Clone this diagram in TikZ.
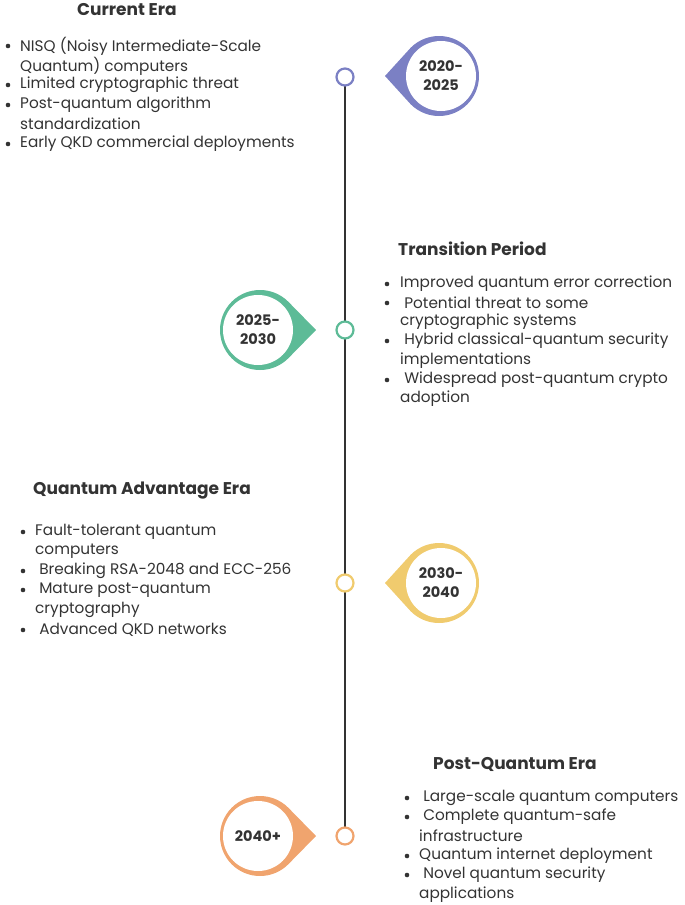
\documentclass[tikz,border=0pt]{standalone}
\usepackage{fontspec}
\usetikzlibrary{calc}
\setmainfont{Poppins}
\definecolor{cA}{HTML}{7B80C4}
\definecolor{cB}{HTML}{5DBB97}
\definecolor{cC}{HTML}{F0CB6E}
\definecolor{cD}{HTML}{F0A46E}
\definecolor{tx}{HTML}{333333}
\begin{document}
\begin{tikzpicture}[x=1pt,y=-1pt,
  txt/.style={anchor=west,inner sep=0,font=\fontsize{15.3}{16}\selectfont,text=tx},
  ttl/.style={anchor=west,inner sep=0,font=\fontsize{17}{18}\selectfont\bfseries,text=tx},
  yr/.style={align=center,font=\fontsize{14.5}{19}\selectfont\bfseries,text=tx},
  dotc/.style={circle,draw=#1,line width=2.2pt,fill=white,minimum size=17pt,inner sep=0}]
\useasboundingbox (0,0) rectangle (685,905);
\coordinate (top) at (345,77);
\coordinate (bot) at (345,836);
\draw[line width=1.3pt,tx] (top) -- (bot);
\node[dotc=cA] (d1) at (345,77) {};
\node[dotc=cB] (d2) at (345,330) {};
\node[dotc=cC] (d3) at (345,583) {};
\node[dotc=cD] (d4) at (345,836) {};
% badges
\foreach \cx/\cy/\tipx/\cc/\lab [count=\i] in {439/76/385/cA/{2020-\\2025}, 260/330/316/cB/{2025-\\2030}, 439/583/385/cC/{2030-\\2040}, 260/836/316/cD/{2040+}}{
  \pgfmathsetmacro{\dir}{\tipx<\cx ? 180 : 0}
  \pgfmathsetmacro{\sg}{\tipx<\cx ? 1 : -1}
  \fill[\cc] (\tipx,\cy) -- ($(\cx,\cy)+(\dir+45:40)$) arc[start angle=\dir+45,end angle=\dir+315,radius=40] -- cycle;
  \fill[white] (\cx+\sg*2,\cy) circle (35);
  \node[yr] (b\i) at (\cx+\sg*2,\cy) {\lab};
}
% Current Era
\node[ttl] (t1) at (77,10) {Current Era};
\foreach \y/\b/\s in {46/1/{NISQ (Noisy Intermediate-Scale},66/0/{Quantum) computers},85/1/{Limited cryptographic threat},105/1/{Post-quantum algorithm},124/0/{standardization},144/1/{Early QKD commercial deployments}}{
  \node[txt] at (20,\y) {\s};
  \ifnum\b=1 \fill[tx] (8,\y) circle (2.3);\fi
}
\node[ttl] (t2) at (398,249) {Transition Period};
\foreach \y/\b/\s in {284/1/{Improved quantum error correction},303/1/{\ Potential threat to some},322/0/{cryptographic systems},341/1/{\ Hybrid classical-quantum security},361/0/{implementations},380/1/{\ Widespread post-quantum crypto},399/0/{adoption}}{
  \node[txt] at (400,\y) {\s};
  \ifnum\b=1 \fill[tx] (387,\y) circle (2.3);\fi
}
\node[ttl] (t3) at (33,491) {Quantum Advantage Era};
\foreach \y/\b/\s in {532/1/{Fault-tolerant quantum},551/0/{computers},571/1/{\ Breaking RSA-2048 and ECC-256},590/1/{\ Mature post-quantum},610/0/{cryptography},630/1/{\ Advanced QKD networks}}{
  \node[txt] at (35,\y) {\s};
  \ifnum\b=1 \fill[tx] (23,\y) circle (2.3);\fi
}
\node[ttl] (t4) at (433,764) {Post-Quantum Era};
\foreach \y/\b/\s in {798/1/{\ Large-scale quantum computers},817/1/{\ Complete quantum-safe},836/0/{infrastructure},856/1/{Quantum internet deployment},875/1/{\ Novel quantum security},895/0/{applications}}{
  \node[txt] at (419,\y) {\s};
  \ifnum\b=1 \fill[tx] (407,\y) circle (2.3);\fi
}
\end{tikzpicture}
\end{document}
